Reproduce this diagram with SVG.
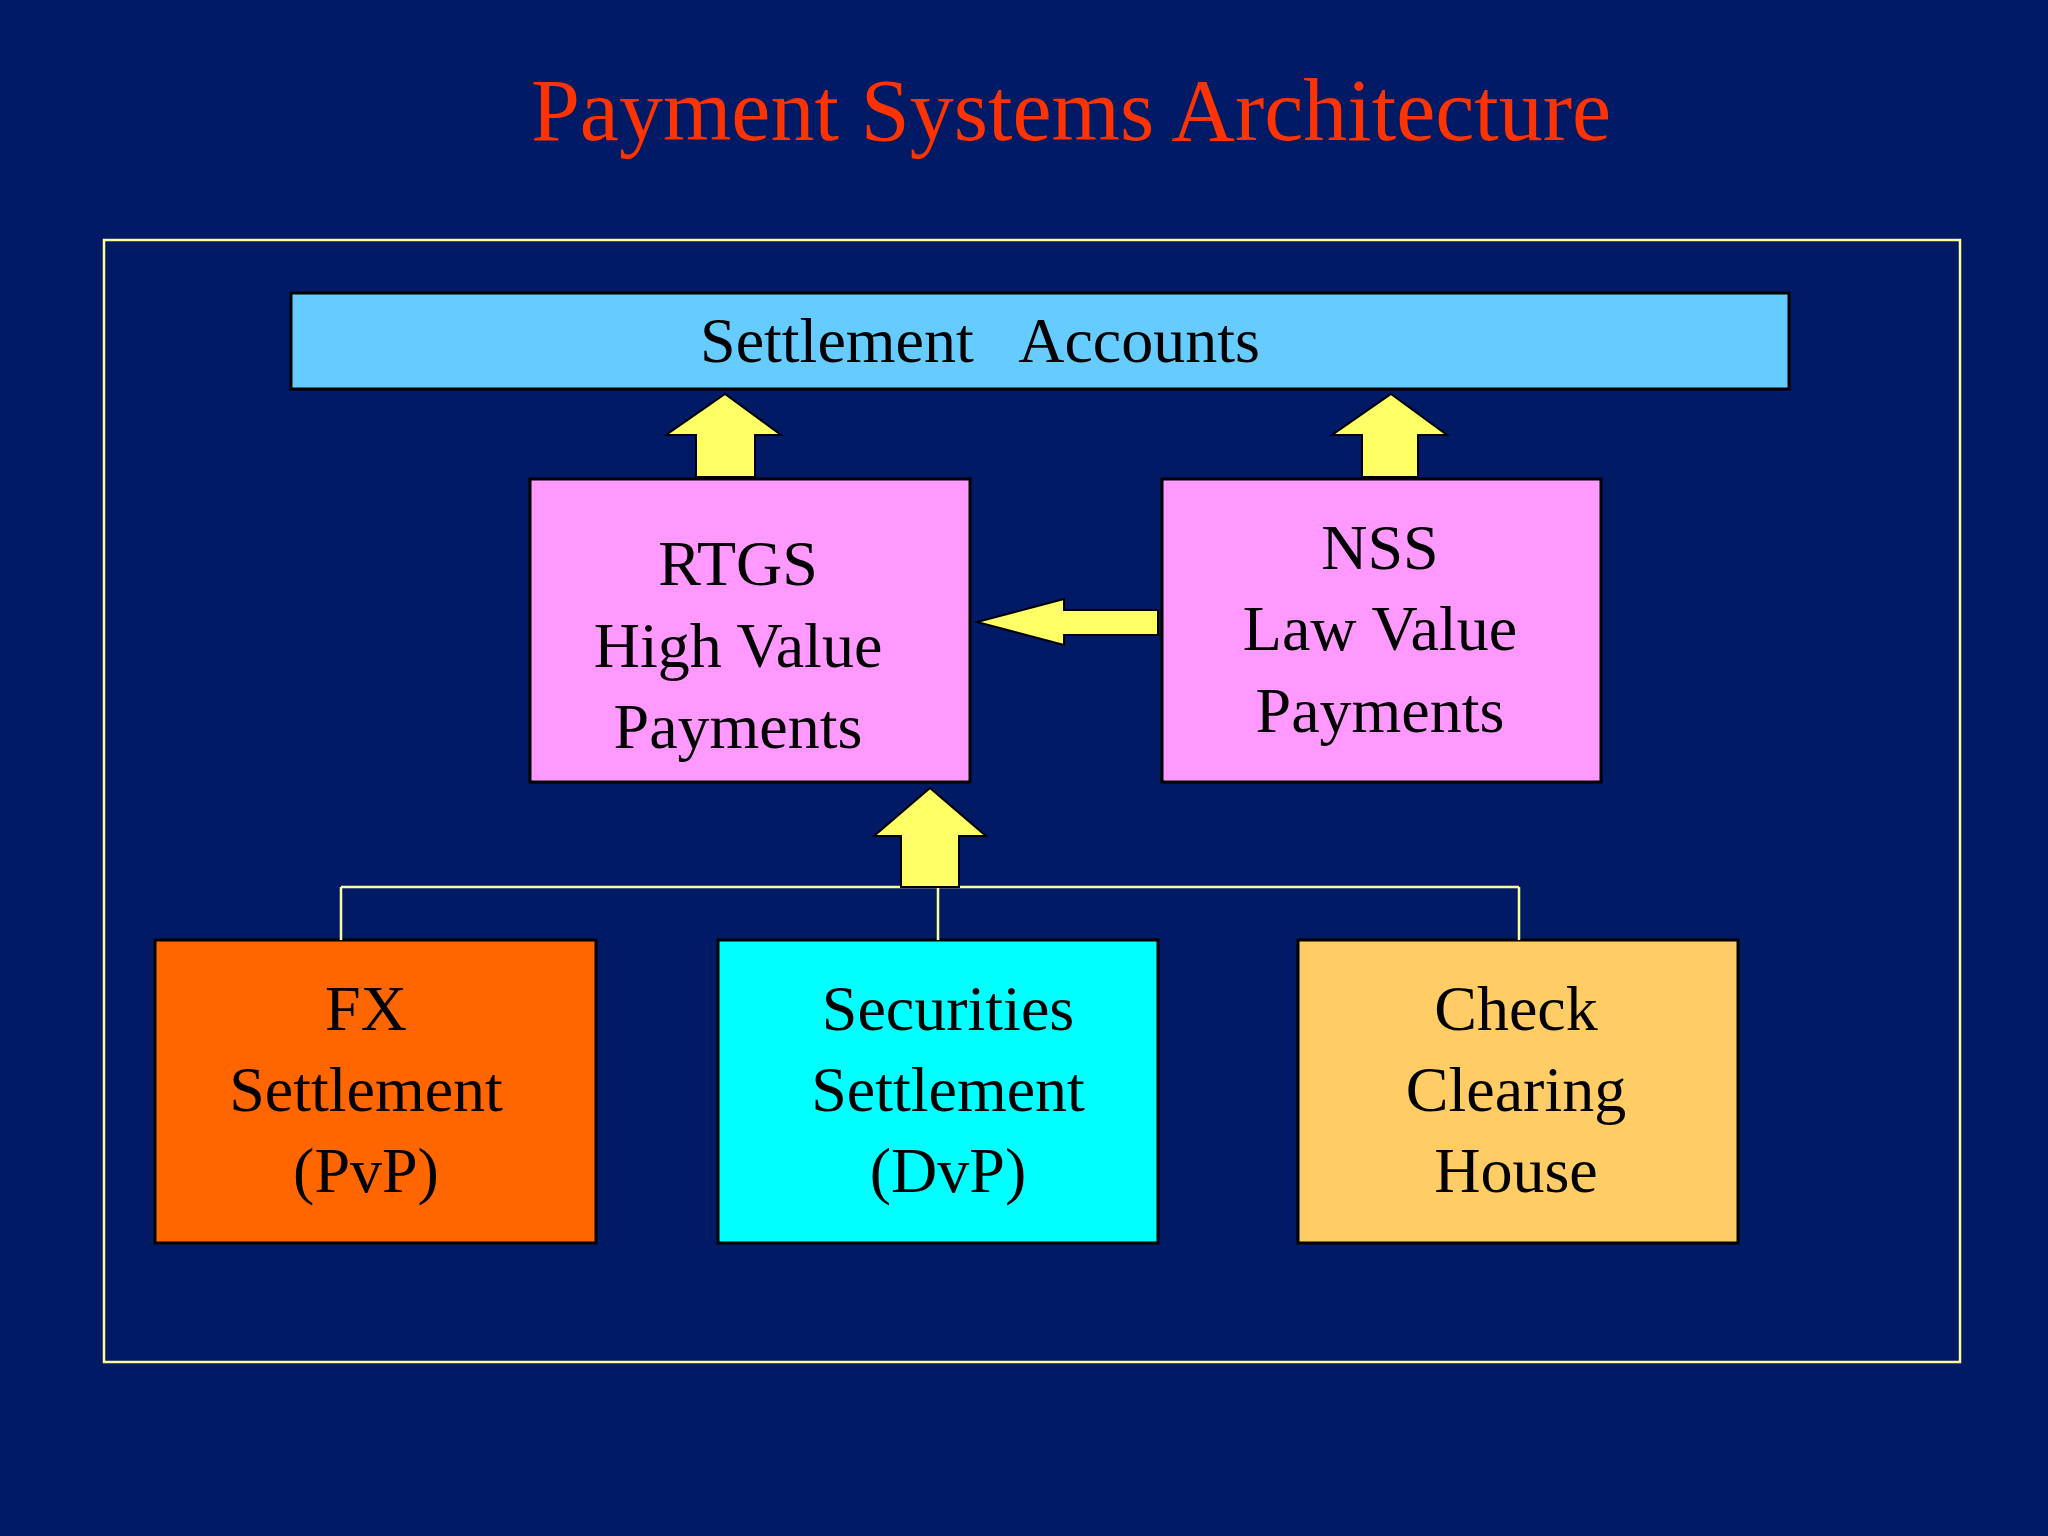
<svg xmlns="http://www.w3.org/2000/svg" width="2048" height="1536" viewBox="0 0 2048 1536">
<style>
text{font-family:"Liberation Serif","Times New Roman",serif;fill:#000;text-anchor:middle}
.box{stroke:#000;stroke-width:3}
.arr{fill:#ffff66;stroke:#000;stroke-width:2}
.ln{stroke:#ffff99;stroke-width:2.5;fill:none}
.t{font-size:64px}
</style>
<rect width="2048" height="1536" fill="#001a66"/>
<text x="1071" y="140" style="font-size:88px;fill:#ff3300">Payment Systems Architecture</text>
<rect x="104" y="240" width="1856" height="1122" fill="none" stroke="#ffff99" stroke-width="2.5"/>
<g id="settlement"><rect class="box" x="291" y="293" width="1498" height="96" fill="#66ccff"/><text class="t" x="980" y="362" xml:space="preserve">Settlement   Accounts</text></g>
<g id="rtgs"><rect class="box" x="530" y="479" width="440" height="303" fill="#ff99ff"/><text class="t" x="738" y="585">RTGS</text><text class="t" x="738" y="667">High Value</text><text class="t" x="738" y="748">Payments</text></g>
<g id="nss"><rect class="box" x="1162" y="479" width="439" height="303" fill="#ff99ff"/><text class="t" x="1380" y="569">NSS</text><text class="t" x="1380" y="650">Law Value</text><text class="t" x="1380" y="732">Payments</text></g>
<g id="fx"><rect class="box" x="155" y="940" width="441" height="303" fill="#ff6600"/><text class="t" x="366" y="1030">FX</text><text class="t" x="366" y="1111">Settlement</text><text class="t" x="366" y="1192">(PvP)</text></g>
<g id="securities"><rect class="box" x="718" y="940" width="440" height="303" fill="#00ffff"/><text class="t" x="948" y="1030">Securities</text><text class="t" x="948" y="1111">Settlement</text><text class="t" x="948" y="1192">(DvP)</text></g>
<g id="check"><rect class="box" x="1298" y="940" width="440" height="303" fill="#ffcc66"/><text class="t" x="1516" y="1030">Check</text><text class="t" x="1516" y="1111">Clearing</text><text class="t" x="1516" y="1192">House</text></g>
<g id="connectors">
<path class="ln" d="M341 887H1519M341 887V940M938 887V940M1519 887V940"/>
<polygon class="arr" points="725,394 781,435 755,435 755,477 696,477 696,435 666,435"/>
<polygon class="arr" points="1391,394 1447,435 1418,435 1418,477 1362,477 1362,435 1332,435"/>
<polygon class="arr" points="930,788 986,836 959,836 959,887 901,887 901,836 874,836"/>
<polygon class="arr" points="977,622 1064,599 1064,610 1158,610 1158,635 1064,635 1064,645"/>
</g>
</svg>
